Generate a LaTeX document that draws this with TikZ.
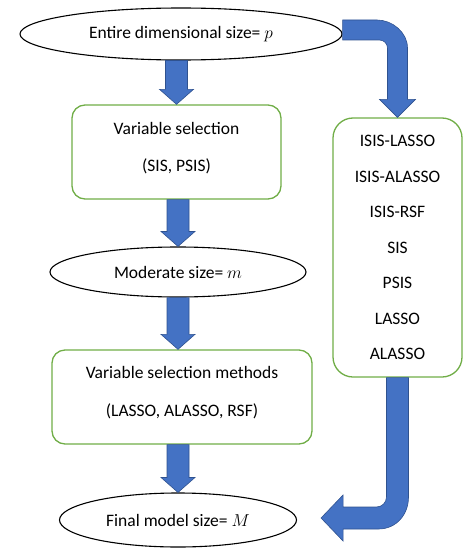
\documentclass[tikz,border=0pt]{standalone}
\usepackage{fontspec}
\setmainfont{Carlito}
\usetikzlibrary{shapes.geometric,calc}
\definecolor{boxgreen}{HTML}{70AD47}
\definecolor{arrblue}{HTML}{4472C4}
\definecolor{arredge}{HTML}{2F528F}
\newcommand\blockdown[2]{%
  \draw[blockarr] let \p1=#1, \p2=#2 in
    (\x1-11pt,\y1) -- (\x1-11pt,\y2+15pt) -- (\x1-17pt,\y2+15pt) -- (\x1,\y2)
    -- (\x1+17pt,\y2+15pt) -- (\x1+11pt,\y2+15pt) -- (\x1+11pt,\y1) -- cycle;}
\begin{document}
\begin{tikzpicture}[x=1pt,y=-1pt,
  every node/.style={font=\fontsize{17.5}{20}\selectfont},
  oval/.style={ellipse, draw=black, line width=1.1pt, inner sep=0pt},
  gbox/.style={draw=boxgreen, line width=1.3pt, rounded corners=13pt, inner sep=0pt},
  blockarr/.style={fill=arrblue, draw=arredge, line width=0.6pt, line join=miter}]
\useasboundingbox (0,0) rectangle (474,551);
% nodes
\node[oval, minimum width=322, minimum height=52] (top) at (181,34) {Entire dimensional size= $p$};
\node[gbox, minimum width=209, minimum height=94] (vs) at (176.5,152) {};
\node[align=center, font=\fontsize{17.5}{37}\selectfont] (vst) at (176.5,148) {Variable selection\\(SIS, PSIS)};
\node[oval, minimum width=256, minimum height=50] (mod) at (178,272) {Moderate size= $m$};
\node[gbox, minimum width=260, minimum height=94] (vsm) at (182,397) {};
\node[align=center, font=\fontsize{17.5}{38}\selectfont] (vsmt) at (182,393) {Variable selection methods\\(LASSO, ALASSO, RSF)};
\node[oval, minimum width=237, minimum height=54] (final) at (178,520) {Final model size= $M$};
\node[gbox, rounded corners=20pt, minimum width=129, minimum height=259, align=center,
      font=\fontsize{17.5}{35.5}\selectfont] (meth) at (397.5,247.5)
  {ISIS-LASSO\\ISIS-ALASSO\\ISIS-RSF\\SIS\\PSIS\\LASSO\\ALASSO};
% straight arrows
\blockdown{(top.south -| vs.north)}{(vs.north)}
\blockdown{(vs.south -| mod.north)}{(mod.north)}
\blockdown{(mod.south)}{(mod.south |- vsm.north)}
\blockdown{(vsm.south -| final.north)}{(final.north)}
% bent arrow top right
\draw[blockarr] let \p1=(top.east), \p2=(meth.north) in
  (\x1,\y1+14pt) -- (\x2-20.5pt,\y1+14pt)
  .. controls (\x2-5pt,\y1+14pt) and (\x2+10pt,\y1+1.5pt) .. (\x2+10pt,\y1-14pt)
  -- (\x2+10pt,\y2+18pt) -- (\x2+18pt,\y2+18pt) -- (\x2,\y2) -- (\x2-18pt,\y2+18pt)
  -- (\x2-10pt,\y2+18pt) -- (\x2-10pt,\y1-14pt)
  .. controls (\x2-10pt,\y1-9.6pt) and (\x2-13.6pt,\y1-6pt) .. (\x2-18pt,\y1-6pt)
  -- (\x1,\y1-6pt) -- cycle;
% bent arrow bottom right
\draw[blockarr] let \p1=(meth.south), \p2=(final.east) in
  (\x1+11pt,\y1) -- (\x1+11pt,\y2+23pt)
  .. controls (\x1+11pt,\y2+5.3pt) and (\x1-1.3pt,\y2-9pt) .. (\x1-19pt,\y2-9pt)
  -- (\x2+46pt,\y2-9pt) -- (\x2+46pt,\y2-21pt) -- (\x2+24pt,\y2+2pt)
  -- (\x2+46pt,\y2+25pt) -- (\x2+46pt,\y2+13pt) -- (\x1-21pt,\y2+13pt)
  .. controls (\x1-15.5pt,\y2+13pt) and (\x1-11pt,\y2+17.5pt) .. (\x1-11pt,\y2+23pt)
  -- (\x1-11pt,\y1) -- cycle;
\end{tikzpicture}
\end{document}
